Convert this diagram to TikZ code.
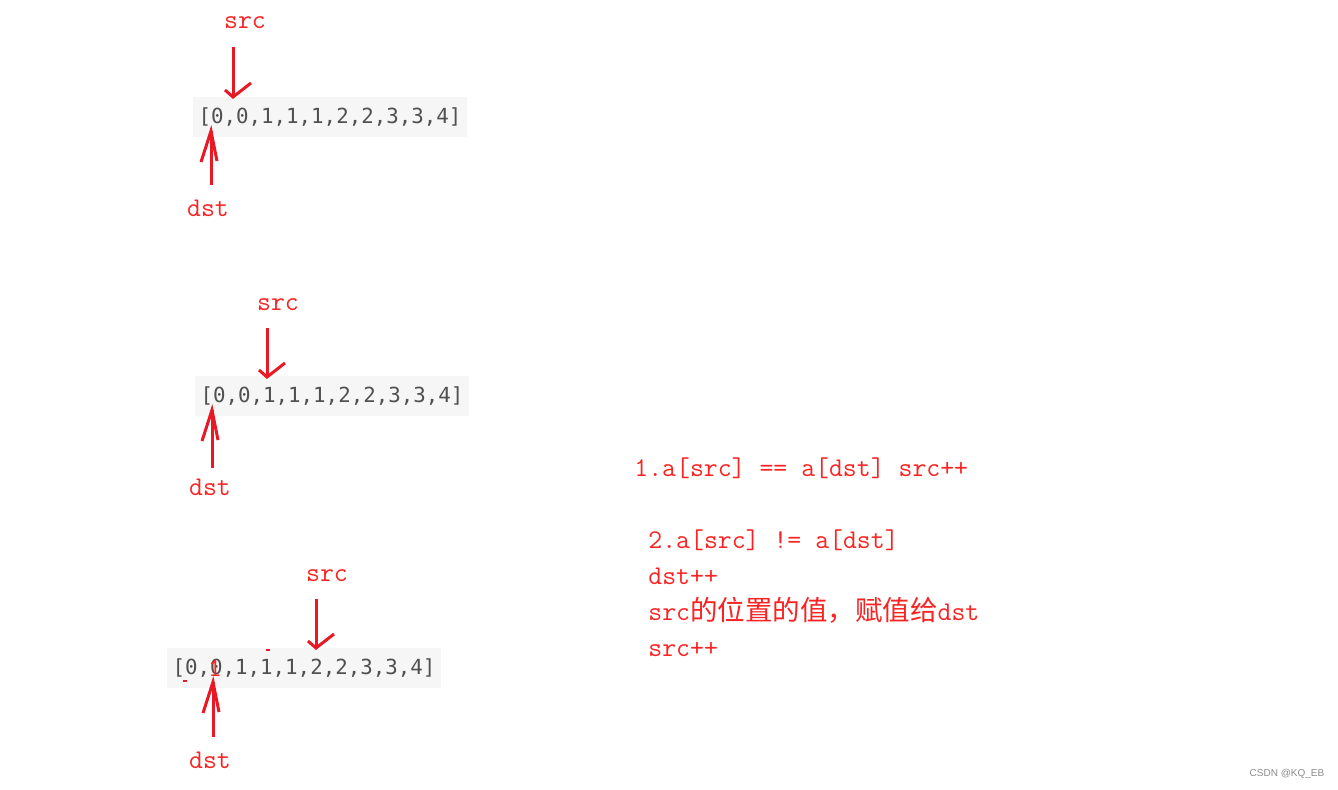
\documentclass[tikz,border=0pt]{standalone}
\usepackage{fontspec}
\usetikzlibrary{positioning}

\newfontfamily\arrfont{DejaVu Sans Mono}
\newfontfamily\cjkfont{Noto Sans CJK SC}
\newfontfamily\markfont{Liberation Sans}

\definecolor{penred}{RGB}{232,24,36}
\definecolor{txtred}{RGB}{250,35,35}
\definecolor{arrgray}{RGB}{80,80,80}
\definecolor{boxgray}{RGB}{246,246,246}

\begin{document}
\begin{tikzpicture}
[
	x								= 0.5pt,
	y								= -0.5pt,
	%
	redtext/.style					=
	{
		text						= txtred,
		font						= \ttfamily\fontsize{13.5}{15}\selectfont,
		inner sep					= 0pt
	},
	rule/.style						= {redtext, anchor = base west},
	numrow/.style					=
	{
		fill						= boxgray,
		text						= arrgray,
		font						= \arrfont\fontsize{10.4}{12}\selectfont,
		minimum width				= 137pt,
		minimum height				= 20pt,
		inner sep					= 0pt
	},
	redpen/.style					= {draw = penred, line width = 1.5pt},
	%
	% hand drawn heads
	pics/downhead/.style			= {code = {\draw [redpen] (-8,-7) -- (0,0) -- (18,-14);}},
	pics/uphead/.style				= {code = {\draw [redpen] (-10,31) -- (0,0) -- (6,30);}},
]
	\useasboundingbox [fill = white] (0,0) rectangle (1338,789);

	% first step
	\node (src1) [redtext] at (245,23) {src};
	\node (arr1) [numrow] at (330,117) {[0,0,1,1,1,2,2,3,3,4]};
	\node (dst1) [redtext] at (208,208) {dst};
	\coordinate (s1) at (233,47);
	\coordinate (t1) at (233,97);
	\coordinate (d1) at (211,185);
	\coordinate (u1) at (211,131);
	\draw [redpen] (s1) -- (t1);
	\pic at (t1) {downhead};
	\draw [redpen] (d1) -- (u1);
	\pic at (u1) {uphead};

	% second step
	\node (src2) [redtext] at (278,305) {src};
	\node (arr2) [numrow] at (332,396) {[0,0,1,1,1,2,2,3,3,4]};
	\node (dst2) [redtext] at (210,487) {dst};
	\coordinate (s2) at (267,328);
	\coordinate (t2) at (267,377);
	\coordinate (d2) at (212,468);
	\coordinate (u2) at (212,410);
	\draw [redpen] (s2) -- (t2);
	\pic at (t2) {downhead};
	\draw [redpen] (d2) -- (u2);
	\pic at (u2) {uphead};

	% third step
	\node (src3) [redtext] at (327,576) {src};
	\node (arr3) [numrow] at (304,668) {[0,0,1,1,1,2,2,3,3,4]};
	\node (dst3) [redtext] at (210,760) {dst};
	\node (one3) [redtext] at (215,668) {1};
	\coordinate (s3) at (316,599);
	\coordinate (t3) at (316,648);
	\coordinate (d3) at (213,737);
	\coordinate (u3) at (213,682);
	\draw [redpen] (s3) -- (t3);
	\pic at (t3) {downhead};
	\draw [redpen] (d3) -- (u3);
	\pic at (u3) {uphead};
	\draw [penred, line width = 1pt] (266,650) -- (270,650);
	\draw [penred, line width = 1pt] (183,681) -- (187,681);

	% rules
	\node (rule1) [rule] at (634,476) {1.a[src] == a[dst] src++};
	\node (rule2) [rule] at (648,548) {2.a[src] != a[dst]};
	\node (rule3) [rule] at (648,584) {dst++};
	\node (rule4) [rule] at (648,620) {src{\cjkfont\fontsize{13.75}{15}\selectfont 的位置的值，赋值给}dst};
	\node (rule5) [rule] at (648,656) {src++};

	\node (wmark) [text = black!45, font = \markfont\fontsize{5}{6}\selectfont] at (1287,774) {CSDN @KQ\_EB};

\end{tikzpicture}
\end{document}
